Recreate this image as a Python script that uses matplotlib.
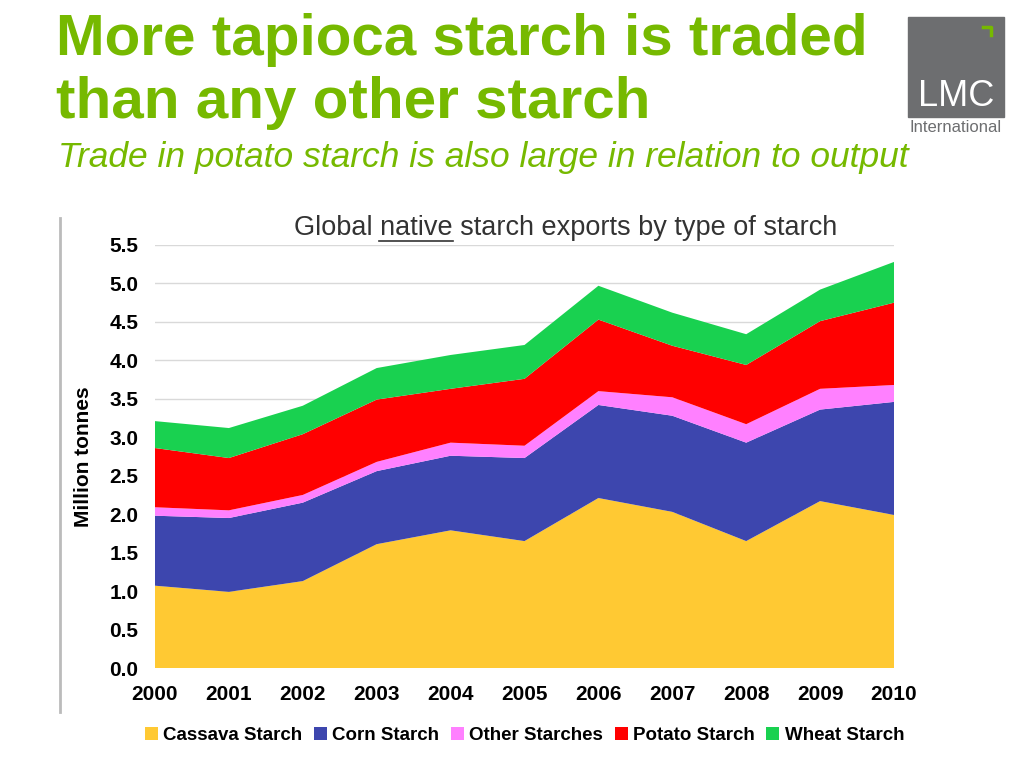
import matplotlib
matplotlib.use("Agg")
import matplotlib.pyplot as plt
import numpy as np
from matplotlib.patches import Rectangle
from matplotlib.lines import Line2D

plt.rcParams["font.family"] = ["Liberation Sans", "DejaVu Sans"]

years = [2000,2001,2002,2003,2004,2005,2006,2007,2008,2009,2010]
cum_cassava = [1.07,0.99,1.13,1.61,1.79,1.65,2.21,2.03,1.65,2.17,1.99]
cum_corn    = [1.98,1.95,2.15,2.56,2.76,2.73,3.42,3.28,2.93,3.36,3.46]
cum_other   = [2.09,2.05,2.25,2.68,2.93,2.89,3.60,3.52,3.17,3.63,3.68]
cum_potato  = [2.86,2.73,3.04,3.49,3.63,3.76,4.53,4.19,3.94,4.51,4.75]
cum_wheat   = [3.21,3.12,3.41,3.90,4.07,4.20,4.97,4.62,4.34,4.92,5.28]
cassava = np.array(cum_cassava)
corn = np.array(cum_corn) - np.array(cum_cassava)
other = np.array(cum_other) - np.array(cum_corn)
potato = np.array(cum_potato) - np.array(cum_other)
wheat = np.array(cum_wheat) - np.array(cum_potato)
names = ["Cassava Starch","Corn Starch","Other Starches","Potato Starch","Wheat Starch"]
colors = ["#FFC933","#3D46AE","#FF80FF","#FF0000","#19D150"]

fig = plt.figure(figsize=(10.24,7.68), dpi=100)
W,H = 1024,768
ax = fig.add_axes([155/W, 1-668/H, (894-155)/W, (668-245)/H])
ax.stackplot(years, cassava, corn, other, potato, wheat, colors=colors, labels=names, zorder=2)
ax.set_xlim(2000,2010)
ax.set_ylim(0,5.5)
ax.set_yticks(np.arange(0,5.51,0.5))
ax.set_yticklabels([f"{v:.1f}" for v in np.arange(0,5.51,0.5)], fontsize=15, fontweight="bold")
ax.set_xticks(years)
ax.set_xticklabels([str(y) for y in years], fontsize=15, fontweight="bold")
ax.tick_params(length=0, pad=12)
ax.grid(axis="y", color="#D9D9D9", lw=1, zorder=0)
for s in ax.spines.values(): s.set_visible(False)
ax.set_ylabel("Million tonnes", fontsize=15, fontweight="bold", labelpad=12)
leg = ax.legend(loc="upper center", bbox_to_anchor=(0.5,-0.1), ncol=5, frameon=False,
                handlelength=0.7, handleheight=0.7, columnspacing=0.6, handletextpad=0.3,
                prop={"weight":"bold","size":13.5})

green = "#76B900"
fig.text(56/W, 1-40/H, "More tapioca starch is traded", fontsize=42, fontweight="bold", color=green, va="center")
fig.text(56/W, 1-103/H, "than any other starch", fontsize=42, fontweight="bold", color=green, va="center")
fig.text(58/W, 1-157/H, "Trade in potato starch is also large in relation to output", fontsize=25.5, style="italic", color=green, va="center")
fig.text(566/W, 1-228/H, "Global native starch exports by type of starch", fontsize=19.5, color="#333333", ha="center", va="center")
fig.add_artist(Line2D([379/W,453/W],[1-241/H,1-241/H], color="#333333", lw=1.2))
fig.add_artist(Line2D([60/W,60/W],[1-218/H,1-712/H], color="#BBBBBB", lw=2))
# logo
fig.add_artist(Rectangle((908/W,1-117/H),96/W,100/H, color="#6D6E70", transform=fig.transFigure))
fig.text(956/W, 1-97/H, "LMC", fontsize=26, color="white", ha="center", va="center")
fig.add_artist(Line2D([983/W,991/W,991/W],[1-27/H,1-27/H,1-35/H], color=green, lw=2.5))
fig.text(956/W, 1-128/H, "International", fontsize=12, color="#6D6E70", ha="center", va="center")
fig.savefig("out.png", dpi=100)
